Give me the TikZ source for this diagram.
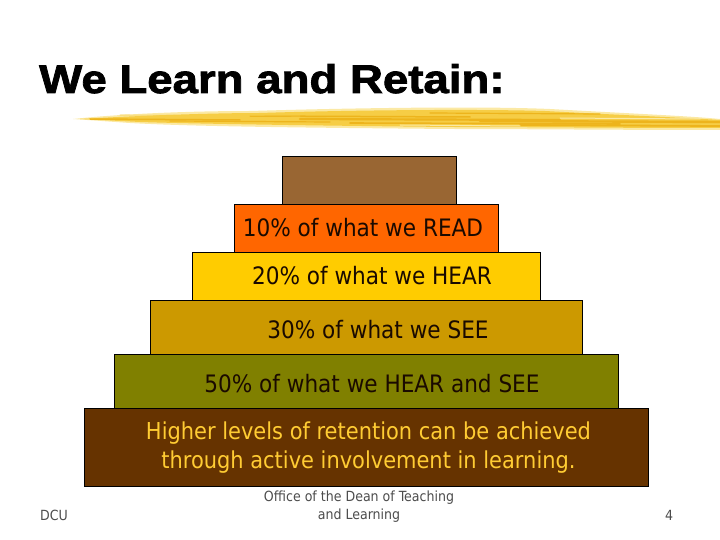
\documentclass[tikz,border=0pt]{standalone}
\usepackage{fontspec}
\setmainfont{Liberation Sans}
\newfontfamily\labelfont{DejaVu Sans Condensed}
\newfontfamily\titlefont[BoldFeatures={FakeBold=2,FakeStretch=1.14}]{Liberation Sans}
\definecolor{crown}{HTML}{996633}
\definecolor{readbox}{HTML}{FF6600}
\definecolor{hearbox}{HTML}{FFCC00}
\definecolor{seebox}{HTML}{CC9900}
\definecolor{bothbox}{HTML}{808000}
\definecolor{basebox}{HTML}{663300}
\definecolor{basetext}{HTML}{FFCC33}
\definecolor{inktext}{HTML}{1A0A00}
\definecolor{brushA}{HTML}{F6CD45}
\definecolor{brushB}{HTML}{EDB41C}
\definecolor{brushC}{HTML}{FBE9A5}
\tikzstyle{tier}=[draw=black, line width=0.9pt, inner sep=0pt, outer sep=0pt]
\tikzstyle{tierlabel}=[inner sep=0pt, text=inktext, font=\labelfont\fontsize{24}{29}\selectfont]
\tikzstyle{foot}=[inner sep=0pt, text=black!70, font=\labelfont\fontsize{14}{17.5}\selectfont, align=center]

\begin{document}
\begin{tikzpicture}[x=1pt, y=-1pt]
    \useasboundingbox (0,0) rectangle (720,540);
    % title and brush stroke
    \node [inner sep=0pt, anchor=base west, font=\titlefont\bfseries\fontsize{40}{42}\selectfont] (title) at (39,93) {We Learn and Retain:};
    \fill [brushC] (73,119) .. controls (130,113) and (200,111) .. (250,111) .. controls (350,108) and (480,106) .. (550,109) .. controls (620,113) and (690,116) .. (720,119) -- (720,130) .. controls (620,130) and (520,129) .. (450,129) .. controls (350,128) and (200,127) .. (130,123) -- cycle;
    \fill [brushA] (80,119) .. controls (150,115) and (220,113) .. (260,113) .. controls (350,110) and (480,109) .. (545,111) .. controls (620,115) and (690,118) .. (720,120) -- (720,128) .. controls (620,128) and (520,127) .. (450,127) .. controls (350,126) and (200,124) .. (140,122) -- cycle;
    % streaks: start, end, height, width, colour
    \foreach \xa/\xb/\yy/\wd/\col in {90/240/119/1.5/brushB, 170/330/121/1.2/brushB, 250/470/116/1.5/brushB, 300/560/119/2.2/brushB, 350/620/123/1.6/brushB, 430/600/113/1.2/brushB, 480/720/121/2.4/brushB, 520/720/125/1.8/brushB, 400/520/125/1/brushC, 560/700/118/1/brushC, 120/300/115/0.6/brushA}
        \draw [\col, line width=\wd pt, line cap=round] (\xa,\yy) -- (\xb,\yy+1);
    % pyramid, top to bottom
    \node [tier, fill=crown, minimum width=174pt, minimum height=48pt] (topbox) at (369,180) {};
    \node [tier, fill=readbox, minimum width=264pt, minimum height=48pt] (readbox) at (366,228) {};
    \node [tier, fill=hearbox, minimum width=348pt, minimum height=48pt] (hearbox) at (366,276) {};
    \node [tier, fill=seebox, minimum width=432pt, minimum height=54pt] (seebox) at (366,327) {};
    \node [tier, fill=bothbox, minimum width=504pt, minimum height=54pt] (bothbox) at (366,381) {};
    \node [tier, fill=basebox, minimum width=564pt, minimum height=78pt] (basebox) at (366,447) {};
    \node [tierlabel] (readlabel) at (363,228) {10\% of what we READ};
    \node [tierlabel] (hearlabel) at (372,276) {20\% of what we HEAR};
    \node [tierlabel] (seelabel) at (378,330) {30\% of what we SEE};
    \node [tierlabel] (bothlabel) at (372,384) {50\% of what we HEAR and SEE};
    \node [tierlabel, text=basetext, align=center, font=\labelfont\fontsize{23.3}{29}\selectfont] (baselabel) at (368.5,448) {Higher levels of retention can be achieved\\through active involvement in learning.};
    % footer
    \node [foot] (footleft) at (54,515) {DCU};
    \node [foot] (footmid) at (359,506.5) {Office of the Dean of Teaching\\and Learning};
    \node [foot] (footright) at (669,515) {4};
\end{tikzpicture}
\end{document}
